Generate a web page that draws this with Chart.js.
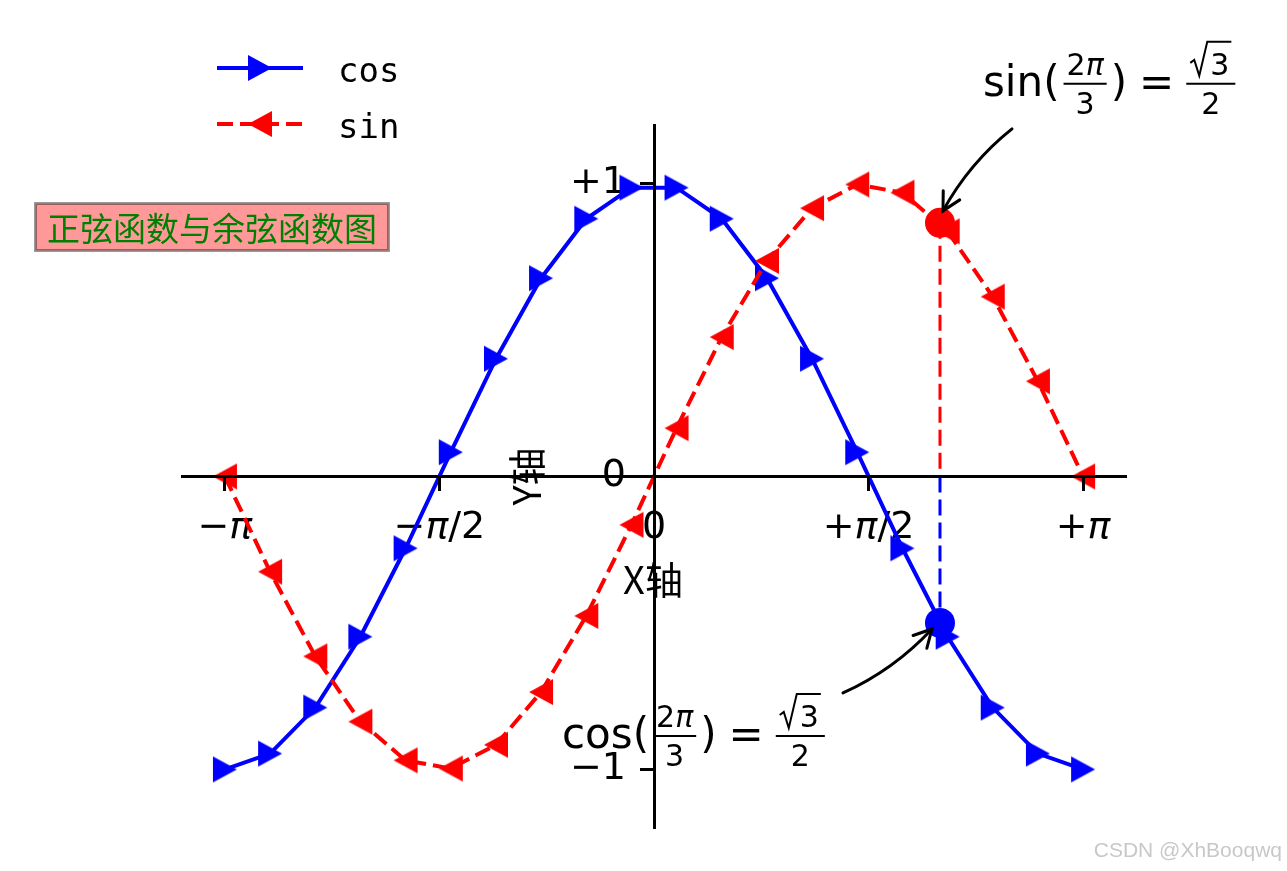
<!DOCTYPE html>
<html>
<head>
<meta charset="utf-8">
<title>正弦函数与余弦函数图</title>
<script src="https://cdn.jsdelivr.net/npm/chart.js@4.4.1/dist/chart.umd.min.js"></script>
<style>
    html, body { margin: 0; padding: 0; background: #fff; }
    #wrap { width: 1287px; height: 871px; }
</style>
</head>
<body>
<div id="wrap"><canvas id="trigChart" width="1287" height="871"></canvas></div>
<script>

// 20 sample points from -π to π
const xValues = [
    -3.142, -2.811, -2.480, -2.150, -1.819, -1.488, -1.157, -0.827, -0.496, -0.165,
    0.165, 0.496, 0.827, 1.157, 1.488, 1.819, 2.150, 2.480, 2.811, 3.142
];
const cosValues = [
    -1.000, -0.946, -0.789, -0.547, -0.245, 0.083, 0.402, 0.677, 0.880, 0.986,
    0.986, 0.880, 0.677, 0.402, 0.083, -0.245, -0.547, -0.789, -0.946, -1.000
];
const sinValues = [
    0.000, -0.325, -0.614, -0.837, -0.969, -0.997, -0.916, -0.736, -0.476, -0.165,
    0.165, 0.476, 0.736, 0.916, 0.997, 0.969, 0.837, 0.614, 0.325, 0.000
];

// marked point t = 2π/3
const markX = 2.094;
const markCos = -0.5;
const markSin = 0.866;

const xTickValues = [-3.142, -1.571, 0, 1.571, 3.142];
const xTickLabels = ['−π', '−π/2', '0', '+π/2', '+π'];
const yTickValues = [-1, 0, 1];
const yTickLabels = ['−1', '0', '+1'];

const xLimits = [-3.456, 3.456];
const yLimits = [-1.2, 1.2];


function triangleMarker(color, dir) {
    const c = document.createElement('canvas');
    c.width = 28;
    c.height = 28;
    const g = c.getContext('2d');
    g.fillStyle = color;
    g.beginPath();
    if (dir > 0) {
        g.moveTo(26, 14); g.lineTo(2, 1); g.lineTo(2, 27);
    } else {
        g.moveTo(2, 14); g.lineTo(26, 1); g.lineTo(26, 27);
    }
    g.closePath();
    g.fill();
    return c;
}

const cosMarker = triangleMarker('blue', 1);
const sinMarker = triangleMarker('red', -1);

// text with an italic π, like matplotlib mathtext
function mathText(ctx, text, x, y, size, align) {
    const parts = text.split(/(π)/).filter(p => p.length);
    const fontOf = p => (p === 'π' ? 'italic ' : '') + size + 'px "DejaVu Sans"';
    let total = 0;
    const widths = parts.map(p => {
        ctx.font = fontOf(p);
        const w = ctx.measureText(p).width;
        total += w;
        return w;
    });
    let cx = align === 'center' ? x - total / 2 : (align === 'right' ? x - total : x);
    ctx.textAlign = 'left';
    parts.forEach((p, i) => {
        ctx.font = fontOf(p);
        ctx.fillText(p, cx, y);
        cx += widths[i];
    });
    return total;
}

// fn(2π/3) = √3/2
function drawFormula(ctx, fn, x, base) {
    const size = 42, small = 30;
    const bar = base - 12;
    ctx.save();
    ctx.fillStyle = '#000';
    ctx.strokeStyle = '#000';
    ctx.textBaseline = 'alphabetic';
    ctx.textAlign = 'left';
    ctx.font = size + 'px "DejaVu Sans"';
    ctx.fillText(fn + '(', x, base);
    x += ctx.measureText(fn + '(').width + 4;

    // 2π over 3
    ctx.font = small + 'px "DejaVu Sans"';
    const w2 = ctx.measureText('2').width;
    ctx.font = 'italic ' + small + 'px "DejaVu Sans"';
    const wPi = ctx.measureText('π').width;
    const bar1 = w2 + wPi + 6;
    mathText(ctx, '2π', x + bar1 / 2, bar - 9, small, 'center');
    ctx.lineWidth = 2;
    ctx.beginPath(); ctx.moveTo(x, bar); ctx.lineTo(x + bar1, bar); ctx.stroke();
    ctx.font = small + 'px "DejaVu Sans"';
    ctx.textAlign = 'center';
    ctx.fillText('3', x + bar1 / 2, bar + 30);
    x += bar1 + 4;

    ctx.textAlign = 'left';
    ctx.font = size + 'px "DejaVu Sans"';
    ctx.fillText(')', x, base);
    x += ctx.measureText(')').width + 12;
    ctx.fillText('=', x, base);
    x += ctx.measureText('=').width + 12;

    // √3 over 2
    ctx.font = small + 'px "DejaVu Sans"';
    const w3 = ctx.measureText('3').width;
    const numW = 20 + w3 + 2;
    const bar2 = numW + 8;
    const r0 = x + 4, nb = bar - 9;
    ctx.lineWidth = 2;
    ctx.beginPath();
    ctx.moveTo(r0, nb - 12);
    ctx.lineTo(r0 + 4, nb - 15);
    ctx.lineTo(r0 + 9, nb + 1);
    ctx.lineTo(r0 + 17, nb - 33);
    ctx.lineTo(r0 + numW, nb - 33);
    ctx.stroke();
    ctx.fillText('3', r0 + 20, nb);
    ctx.beginPath(); ctx.moveTo(x, bar); ctx.lineTo(x + bar2, bar); ctx.stroke();
    ctx.textAlign = 'center';
    ctx.fillText('2', x + bar2 / 2, bar + 30);
    ctx.restore();
}

// "->" arrow along an arc3-like curve
function drawArrow(ctx, sx, sy, ex, ey, rad) {
    const dx = ex - sx, dy = ey - sy;
    const cx = (sx + ex) / 2 - rad * dy;
    const cy = (sy + ey) / 2 + rad * dx;
    ctx.save();
    ctx.strokeStyle = '#000';
    ctx.lineWidth = 3;
    ctx.lineCap = 'round';
    ctx.beginPath();
    ctx.moveTo(sx, sy);
    ctx.quadraticCurveTo(cx, cy, ex, ey);
    ctx.stroke();
    const ang = Math.atan2(ey - cy, ex - cx);
    const len = 20, spread = 28 * Math.PI / 180;
    ctx.beginPath();
    ctx.moveTo(ex - len * Math.cos(ang - spread), ey - len * Math.sin(ang - spread));
    ctx.lineTo(ex, ey);
    ctx.lineTo(ex - len * Math.cos(ang + spread), ey - len * Math.sin(ang + spread));
    ctx.stroke();
    ctx.restore();
}

const overlayPlugin = {
    id: 'overlay',
    beforeDatasetsDraw(chart) {
        const ctx = chart.ctx;
        const xs = chart.scales.x, ys = chart.scales.y;
        const x0 = xs.getPixelForValue(0), y0 = ys.getPixelForValue(0);
        ctx.save();
        ctx.fillStyle = '#000';
        ctx.textBaseline = 'alphabetic';
        xTickValues.forEach((v, i) => mathText(ctx, xTickLabels[i], xs.getPixelForValue(v), y0 + 61, 38, 'center'));
        ctx.textBaseline = 'middle';
        yTickValues.forEach((v, i) => mathText(ctx, yTickLabels[i], x0 - 28, ys.getPixelForValue(v), 38, 'right'));

        ctx.font = '38px "Noto Sans CJK SC"';
        ctx.textAlign = 'center';
        ctx.fillText('X轴', x0 - 1, y0 + 103);
        ctx.translate(x0 - 127, y0);
        ctx.rotate(-Math.PI / 2);
        ctx.fillText('Y轴', 0, 0);
        ctx.restore();
    },
    afterDraw(chart) {
        const ctx = chart.ctx;
        const xs = chart.scales.x, ys = chart.scales.y;
        const sets = chart.data.datasets;

        // legend
        ctx.save();
        [sets[0], sets[1]].forEach((ds, i) => {
            const ly = 68 + i * 56;
            ctx.strokeStyle = ds.borderColor;
            ctx.lineWidth = ds.borderWidth;
            ctx.setLineDash(ds.borderDash || []);
            ctx.beginPath(); ctx.moveTo(217, ly); ctx.lineTo(303, ly); ctx.stroke();
            ctx.setLineDash([]);
            ctx.drawImage(ds.pointStyle, 260 - 14, ly - 14);
            ctx.fillStyle = '#000';
            ctx.font = '34px "DejaVu Sans Mono"';
            ctx.textAlign = 'left';
            ctx.textBaseline = 'alphabetic';
            ctx.fillText(ds.label, 338, ly + 14);
        });

        // title box
        ctx.fillStyle = 'rgba(255, 0, 0, 0.4)';
        ctx.fillRect(35.5, 203.5, 353, 47);
        ctx.strokeStyle = 'rgba(0, 0, 0, 0.4)';
        ctx.lineWidth = 3;
        ctx.strokeRect(35.5, 203.5, 353, 47);
        ctx.fillStyle = 'green';
        ctx.font = '33px "Noto Sans CJK SC"';
        ctx.textAlign = 'center';
        ctx.textBaseline = 'middle';
        ctx.fillText('正弦函数与余弦函数图', 212, 228);
        ctx.restore();

        // annotations
        const px = xs.getPixelForValue(markX);
        const pySin = ys.getPixelForValue(markSin);
        const pyCos = ys.getPixelForValue(markCos);
        drawFormula(ctx, 'sin', px + 43, pySin - 127);
        drawArrow(ctx, px + 72, pySin - 94, px + 3, pySin - 12, 0.1);
        drawFormula(ctx, 'cos', px - 378, pyCos + 125);
        drawArrow(ctx, px - 97, pyCos + 70, px - 8, pyCos + 6, 0.1);

        // watermark
        ctx.save();
        ctx.fillStyle = '#c8c8c8';
        ctx.font = '21px "Liberation Sans"';
        ctx.textAlign = 'right';
        ctx.textBaseline = 'alphabetic';
        ctx.fillText('CSDN @XhBooqwq', 1282, 857);
        ctx.restore();
    }
};

buildTrigChart();

function buildTrigChart() {
    const trigCtx = document.getElementById('trigChart');
    // @ts-ignore
    new Chart(trigCtx, {
        type: 'scatter',
        data: {
            datasets: [
                {
                    label: 'cos',
                    data: xValues.map((x, i) => ({ x: x, y: cosValues[i] })),
                    showLine: true,
                    borderColor: 'blue',
                    borderWidth: 4,
                    backgroundColor: 'blue',
                    pointStyle: cosMarker,
                    pointRadius: 12,
                    order: 6
                },
                {
                    label: 'sin',
                    data: xValues.map((x, i) => ({ x: x, y: sinValues[i] })),
                    showLine: true,
                    borderColor: 'red',
                    borderWidth: 4,
                    borderDash: [16, 7],
                    backgroundColor: 'red',
                    pointStyle: sinMarker,
                    pointRadius: 12,
                    order: 5
                },
                {
                    label: 'cos guide',
                    data: [{ x: markX, y: 0 }, { x: markX, y: markCos }],
                    showLine: true,
                    borderColor: 'blue',
                    borderWidth: 3,
                    borderDash: [16, 7],
                    pointRadius: 0,
                    order: 4
                },
                {
                    label: 'cos point',
                    data: [{ x: markX, y: markCos }],
                    backgroundColor: 'blue',
                    borderWidth: 0,
                    pointRadius: 15,
                    order: 3
                },
                {
                    label: 'sin guide',
                    data: [{ x: markX, y: markSin }, { x: markX, y: 0 }],
                    showLine: true,
                    borderColor: 'red',
                    borderWidth: 3,
                    borderDash: [16, 7],
                    pointRadius: 0,
                    order: 2
                },
                {
                    label: 'sin point',
                    data: [{ x: markX, y: markSin }],
                    backgroundColor: 'red',
                    borderWidth: 0,
                    pointRadius: 15,
                    order: 1
                }
            ]
        },
        options: {
            responsive: false,
            animation: false,
            events: [],
            layout: {
                padding: { left: 182, right: 161, top: 125, bottom: 43 }
            },
            scales: {
                x: {
                    type: 'linear',
                    min: xLimits[0],
                    max: xLimits[1],
                    position: { y: 0 },
                    afterBuildTicks: scale => { scale.ticks = xTickValues.map(v => ({ value: v })); },
                    ticks: { display: false },
                    grid: { drawOnChartArea: false, drawTicks: true, tickLength: 13, tickWidth: 3, tickColor: '#000', z: 1 },
                    border: { display: true, color: '#000', width: 3, z: 1 }
                },
                y: {
                    type: 'linear',
                    min: yLimits[0],
                    max: yLimits[1],
                    position: { x: 0 },
                    afterBuildTicks: scale => { scale.ticks = yTickValues.map(v => ({ value: v })); },
                    ticks: { display: false },
                    grid: { drawOnChartArea: false, drawTicks: true, tickLength: 13, tickWidth: 3, tickColor: '#000', z: 1 },
                    border: { display: true, color: '#000', width: 3, z: 1 }
                }
            },
            plugins: {
                legend: { display: false },
                tooltip: { enabled: false }
            }
        },
        plugins: [overlayPlugin]
    });
}
</script>
</body>
</html>
